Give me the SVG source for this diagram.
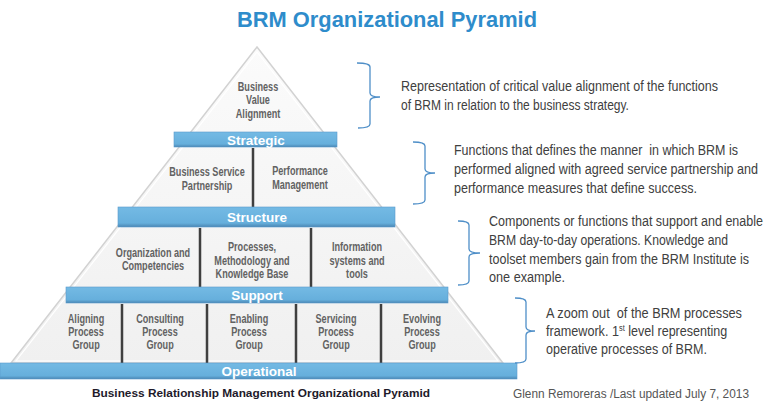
<svg xmlns="http://www.w3.org/2000/svg" width="768" height="406" viewBox="0 0 768 406">
<defs>
<linearGradient id="pyr" x1="0" y1="0" x2="0" y2="1">
<stop offset="0" stop-color="#fbfbfb"/>
<stop offset="1" stop-color="#f0f0f0"/>
</linearGradient>
<linearGradient id="bar" x1="0" y1="0" x2="0" y2="1">
<stop offset="0" stop-color="#74bae4"/>
<stop offset="0.8" stop-color="#66afdc"/>
<stop offset="1" stop-color="#4a86b3"/>
</linearGradient>
</defs>
<style>
.lb{font-family:"Liberation Sans",Arial,sans-serif;font-weight:bold;font-size:12px;fill:#626262;text-anchor:middle;transform-box:fill-box;transform-origin:center;transform:scaleX(0.76)}
.bt{font-family:"Liberation Sans",Arial,sans-serif;font-weight:bold;font-size:13.5px;fill:#ffffff;text-anchor:middle}
.bar{fill:url(#bar);stroke:#5a9acb;stroke-width:0.6}
.div{stroke:#3f3f3f;stroke-width:2.5}
.ds{font-family:"Liberation Sans",Arial,sans-serif;font-size:14px;fill:#404040}
.br{fill:none;stroke:#4f8fc8;stroke-width:1.3}
</style>
<rect width="768" height="406" fill="#ffffff"/>
<g id="title">
<text x="387" y="27" font-family="Liberation Sans, Arial, sans-serif" font-weight="bold" font-size="22" fill="#2e8ccb" text-anchor="middle" textLength="300" lengthAdjust="spacingAndGlyphs">BRM Organizational Pyramid</text>
</g>
<g id="pyramid">
<polygon points="257,47 503,363 11,363" fill="url(#pyr)" stroke="#d2d2d2" stroke-width="1.5"/>
<polygon points="257,52 498,361 16,361" fill="none" stroke="#ffffff" stroke-width="1.2"/>
</g>
<g id="tier-top">
<text class="lb" x="258" y="91">Business</text>
<text class="lb" x="258" y="104.5">Value</text>
<text class="lb" x="258" y="118">Alignment</text>
</g>
<g id="bar-strategic">
<rect class="bar" x="174" y="132" width="163" height="15"/>
<text class="bt" x="256" y="144.5">Strategic</text>
</g>
<g id="tier-strategic">
<line class="div" x1="253" y1="148" x2="253" y2="207"/>
<text class="lb" x="207" y="176">Business Service</text>
<text class="lb" x="207" y="190">Partnership</text>
<text class="lb" x="300" y="175">Performance</text>
<text class="lb" x="300" y="189">Management</text>
</g>
<g id="bar-structure">
<rect class="bar" x="118" y="207" width="277" height="20"/>
<text class="bt" x="257" y="222">Structure</text>
</g>
<g id="tier-structure">
<line class="div" x1="200" y1="228" x2="200" y2="287"/>
<line class="div" x1="311" y1="228" x2="311" y2="287"/>
<text class="lb" x="153" y="257">Organization and</text>
<text class="lb" x="153" y="270">Competencies</text>
<text class="lb" x="252" y="251">Processes,</text>
<text class="lb" x="252" y="265">Methodology and</text>
<text class="lb" x="252" y="278">Knowledge Base</text>
<text class="lb" x="357" y="251">Information</text>
<text class="lb" x="357" y="265">systems and</text>
<text class="lb" x="357" y="278">tools</text>
</g>
<g id="bar-support">
<rect class="bar" x="66" y="287" width="382" height="16"/>
<text class="bt" x="257" y="300">Support</text>
</g>
<g id="tier-support">
<line class="div" x1="122" y1="304" x2="122" y2="363"/>
<line class="div" x1="207" y1="304" x2="207" y2="363"/>
<line class="div" x1="296" y1="304" x2="296" y2="363"/>
<line class="div" x1="381" y1="304" x2="381" y2="363"/>
<text class="lb" x="86" y="323">Aligning</text>
<text class="lb" x="86" y="336">Process</text>
<text class="lb" x="86" y="349">Group</text>
<text class="lb" x="160" y="323">Consulting</text>
<text class="lb" x="160" y="336">Process</text>
<text class="lb" x="160" y="349">Group</text>
<text class="lb" x="249" y="323">Enabling</text>
<text class="lb" x="249" y="336">Process</text>
<text class="lb" x="249" y="349">Group</text>
<text class="lb" x="336" y="323">Servicing</text>
<text class="lb" x="336" y="336">Process</text>
<text class="lb" x="336" y="349">Group</text>
<text class="lb" x="422" y="323">Evolving</text>
<text class="lb" x="422" y="336">Process</text>
<text class="lb" x="422" y="349">Group</text>
</g>
<g id="bar-operational">
<rect class="bar" x="0" y="363" width="517" height="16"/>
<text class="bt" x="259" y="376">Operational</text>
</g>
<g id="connectors">
<path class="br" d="M357,63 Q370,63 370,67 L370,93 Q370,97 380,97 Q370,97 370,101 L370,124 Q370,128 358,128"/>
<path class="br" d="M413,142 Q425,142 425,146 L425,169 Q425,173 435,173 Q425,173 425,177 L425,200 Q425,204 413,204"/>
<path class="br" d="M458,221 Q469,221 469,225 L469,249 Q469,253 480,253 Q469,253 469,257 L469,281 Q469,285 458,285"/>
<path class="br" d="M515,298 Q526,298 526,302 L526,327 Q526,331 535,331 Q526,331 526,335 L526,359 Q526,363 515,363"/>
</g>
<g id="desc-strategic">
<text class="ds" transform="translate(401,91) scale(0.82,1)" textLength="386.6" lengthAdjust="spacingAndGlyphs">Representation of critical value alignment of the functions</text>
<text class="ds" transform="translate(401,110) scale(0.82,1)" textLength="278" lengthAdjust="spacingAndGlyphs">of BRM in relation to the business strategy.</text>
</g>
<g id="desc-structure">
<text class="ds" xml:space="preserve" transform="translate(454,155) scale(0.82,1)" textLength="346.3" lengthAdjust="spacingAndGlyphs">Functions that defines the manner  in which BRM is</text>
<text class="ds" transform="translate(454,174) scale(0.82,1)" textLength="370.7" lengthAdjust="spacingAndGlyphs">performed aligned with agreed service partnership and</text>
<text class="ds" transform="translate(454,193) scale(0.82,1)" textLength="296.3" lengthAdjust="spacingAndGlyphs">performance measures that define success.</text>
</g>
<g id="desc-support">
<text class="ds" transform="translate(489,226) scale(0.82,1)" textLength="334.1" lengthAdjust="spacingAndGlyphs">Components or functions that support and enable</text>
<text class="ds" transform="translate(489,245) scale(0.82,1)" textLength="291.5" lengthAdjust="spacingAndGlyphs">BRM day-to-day operations. Knowledge and</text>
<text class="ds" transform="translate(489,264) scale(0.82,1)" textLength="317.1" lengthAdjust="spacingAndGlyphs">toolset members gain from the BRM Institute is</text>
<text class="ds" transform="translate(489,282) scale(0.82,1)" textLength="92.7" lengthAdjust="spacingAndGlyphs">one example.</text>
</g>
<g id="desc-operational">
<text class="ds" xml:space="preserve" transform="translate(546,318) scale(0.82,1)" textLength="239" lengthAdjust="spacingAndGlyphs">A zoom out  of the BRM processes</text>
<text class="ds" transform="translate(546,336) scale(0.82,1)"><tspan textLength="89" lengthAdjust="spacingAndGlyphs">framework. 1</tspan><tspan font-size="9" dy="-5">st</tspan><tspan dy="5" textLength="125" lengthAdjust="spacingAndGlyphs"> level representing</tspan></text>
<text class="ds" transform="translate(546,354) scale(0.82,1)" textLength="196.3" lengthAdjust="spacingAndGlyphs">operative processes of BRM.</text>
</g>
<g id="caption">
<text x="92" y="397" font-family="Liberation Sans, Arial, sans-serif" font-weight="bold" font-size="11" fill="#1e1a2a" textLength="338" lengthAdjust="spacingAndGlyphs">Business Relationship Management Organizational Pyramid</text>
</g>
<g id="credit">
<text x="513" y="398" font-family="Liberation Sans, Arial, sans-serif" font-size="12.5" fill="#555555" textLength="236" lengthAdjust="spacingAndGlyphs">Glenn Remoreras /Last updated July 7, 2013</text>
</g>
</svg>
